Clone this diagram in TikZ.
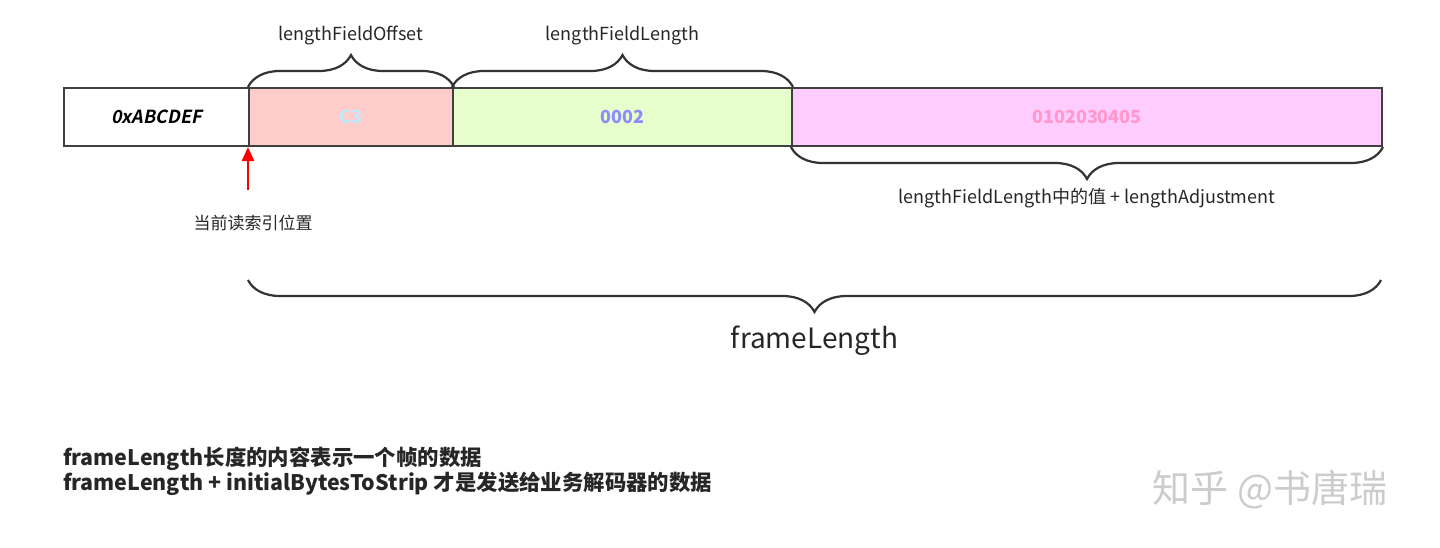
\documentclass[tikz,border=0pt]{standalone}
\usepackage{fontspec}
\setmainfont{Noto Sans CJK SC}
\newfontface\bif{Noto Sans CJK SC Bold}[FakeSlant=0.2]
\usetikzlibrary{decorations.pathreplacing,arrows.meta}
\definecolor{pk}{HTML}{FFCCFF}
\definecolor{pkt}{HTML}{FF99CC}
\definecolor{gr}{HTML}{E6FFCC}
\definecolor{rd}{HTML}{FFCCCC}
\begin{document}
\begin{tikzpicture}[x=0.5pt,y=-0.5pt,
  cell/.style={draw=black!75,line width=1pt,minimum height=29pt,inner sep=0pt,anchor=north west,font=\bfseries\fontsize{9}{10}\selectfont},
  brc/.style={draw=black!80,line width=1.1pt,decorate,decoration={brace,amplitude=16pt}},
  lab/.style={font=\fontsize{9}{11}\selectfont,text=black!85}]
\useasboundingbox (0,0) rectangle (1440,547);
\node[cell,minimum width=92.5pt] (a) at (63,87) {\bif 0xABCDEF};
\node[cell,minimum width=102pt,fill=rd,text=cyan!25] (b) at (248,87) {C3};
\node[cell,minimum width=169.5pt,fill=gr,text=blue!45] (c) at (452,87) {0002};
\node[cell,minimum width=295pt,fill=pk,text=pkt] (d) at (791,87) {0102030405};
\draw[brc] (b.north west) -- (b.north east) node[midway,above=17pt,lab] {lengthFieldOffset};
\draw[brc] (c.north west) -- (c.north east) node[midway,above=17pt,lab] {lengthFieldLength};
\draw[brc] (d.south east) -- (d.south west) node[midway,below=17pt,lab] {lengthFieldLength中的值 + lengthAdjustment};
\coordinate (f1) at (248,280); \coordinate (f2) at (1381,280);
\draw[brc] (f2) -- (f1) node[midway,below=19pt,font=\fontsize{14}{16}\selectfont,text=black!85] {frameLength};
\coordinate (arr) at (248,190);
\draw[-{Triangle[length=7pt,width=6pt]},red,line width=1.2pt] (arr) -- (b.south west);
\node[lab,font=\fontsize{8.5}{10}\selectfont] (cur) at (253,223) {当前读索引位置};
\node[anchor=north west,align=left,font=\bfseries\fontsize{10.7}{12.5}\selectfont,text=black!85] (note) at (56,440) {frameLength长度的内容表示一个帧的数据\\frameLength + initialBytesToStrip 才是发送给业务解码器的数据};
\node[font=\fontsize{19}{22}\selectfont,text=black!20] (wm) at (1270,490) {知乎 @书唐瑞};
\end{tikzpicture}
\end{document}
